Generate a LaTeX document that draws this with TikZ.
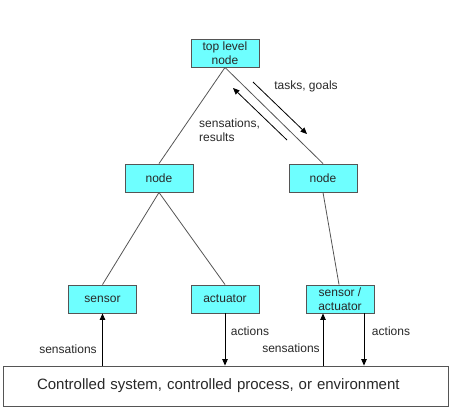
\documentclass[tikz,border=0pt]{standalone}
\usepackage{fontspec}
\setmainfont{Liberation Sans}
\usepackage{tikz}
\usetikzlibrary{arrows.meta, positioning}
\usepackage{xcolor}
\definecolor{boxcyan}{RGB}{110,255,255}
\definecolor{edgegray}{RGB}{85,85,85}
\definecolor{textgray}{RGB}{40,40,40}
\tikzset{%
	level box/.style={
		rectangle,
		draw=edgegray,
		fill=boxcyan,
		line width=0.9pt,
		minimum width=68pt,
		minimum height=28pt,
		inner sep=0pt,
		align=center,
		font=\fontsize{12}{14.5}\selectfont,
		text=textgray
	},
	tree line/.style={
		draw=edgegray,
		line width=0.8pt
	},
	flow arrow/.style={
		draw=black,
		line width=0.8pt,
		-{Triangle[width=5.5pt,length=6.5pt]}
	},
	flow label/.style={
		font=\fontsize{12}{14}\selectfont,
		text=textgray,
		inner sep=0pt,
		align=left
	},
}
\begin{document}
\begin{tikzpicture}[x=1pt, y=-1pt]
			
			\useasboundingbox (0,0) rectangle (474,408);
			
			% Draw boxes
			\node[level box] (top) at (225,53) {top level\\node};
			\node[level box] (nodeL) at (159,178) {node};
			\node[level box] (nodeR) at (323,178) {node};
			\node[level box] (sensor) at (102.5,299) {sensor};
			\node[level box] (actuator) at (225,299) {actuator};
			\node[level box] (sensact) at (340,299) {sensor /\\actuator};
			
			% Draw environment
			\node[rectangle, draw=edgegray, line width=0.9pt, minimum width=445pt, minimum height=40pt,
			      text width=377pt, inner xsep=34pt, align=left, text=textgray,
			      font=\fontsize{15}{18}\selectfont] (env) at (225.5,386)
			      {Controlled system, controlled process, or environment};
			
			% Draw tree lines
			\draw[tree line] (top.south) -- (nodeL.north);
			\draw[tree line] (top.south) -- (nodeR.north);
			\draw[tree line] (nodeL.south) -- (sensor.north);
			\draw[tree line] (nodeL.south) -- (actuator.north);
			\draw[tree line] (nodeR.south) -- ([xshift=-1pt]sensact.north);
			
			% Tasks and results between levels
			\coordinate (taskA) at (253,82);
			\coordinate (taskB) at (307,134);
			\coordinate (resA) at (287,140);
			\coordinate (resB) at (233,88);
			\draw[flow arrow] (taskA) -- (taskB);
			\draw[flow arrow] (resA) -- (resB);
			\node[flow label] (tasks) at (306,86) {tasks, goals};
			\node[flow label, anchor=west] (results) at (199,130) {sensations,\\results};
			
			% Sensations and actions
			\draw[flow arrow] (env.north -| sensor.south) -- (sensor.south);
			\draw[flow arrow] (actuator.south) -- (env.north -| actuator.south);
			\draw[flow arrow] ([xshift=-17pt]env.north -| sensact.south) -- ([xshift=-17pt]sensact.south);
			\draw[flow arrow] ([xshift=24pt]sensact.south) -- ([xshift=24pt]env.north -| sensact.south);
			\node[flow label] (sensL) at (68,349) {sensations};
			\node[flow label] (actL) at (250,331) {actions};
			\node[flow label] (sensR) at (291,348) {sensations};
			\node[flow label] (actR) at (391,331) {actions};
			
		\end{tikzpicture}
\end{document}
